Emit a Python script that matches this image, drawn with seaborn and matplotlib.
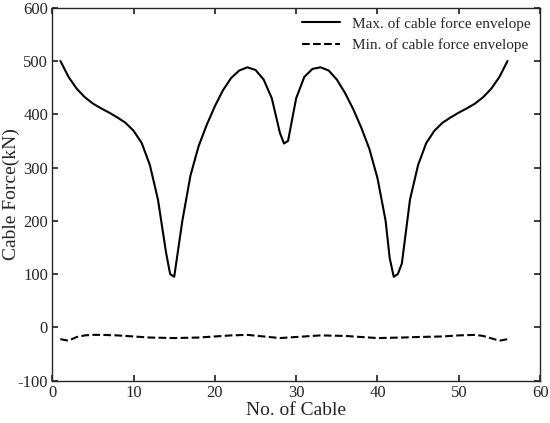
import numpy as np
import pandas as pd
import matplotlib
matplotlib.use("Agg")
import matplotlib.pyplot as plt
import seaborn as sns

# data
max_x = [1, 2, 3, 4, 5, 6, 7, 8, 9, 10, 11, 12, 13, 14, 14.5, 15, 16, 17, 18, 19, 20,
         21, 22, 23, 24, 25, 26, 27, 28, 28.5, 29, 30, 31, 32, 33, 34, 35, 36, 37, 38,
         39, 40, 41, 41.5, 42, 42.5, 43, 44, 45, 46, 47, 48, 49, 50, 51, 52, 53, 54, 55, 56]
max_force = [500, 470, 448, 432, 420, 411, 403, 394, 384, 369, 346, 305, 240, 140, 100, 95,
             200, 285, 340, 380, 415, 445, 468, 482, 488, 483, 465, 430, 365, 345, 350, 430,
             470, 485, 488, 482, 465, 440, 410, 375, 335, 280, 200, 130, 95, 100, 120, 240,
             305, 346, 369, 384, 394, 403, 411, 420, 432, 448, 470, 500]
min_x = [1, 2, 3, 4, 5, 6, 8, 10, 12, 15, 18, 20, 22, 24, 26, 28, 30, 33, 36, 40, 43,
         45, 48, 50, 52, 53, 55, 56]
min_force = [-22, -25, -18, -15, -14, -14, -15, -17, -19, -20, -19, -17, -15, -14, -17, -20,
             -18, -15, -16, -20, -19, -18, -17, -15, -14, -16, -25, -22]

sns.set_theme(style="ticks")
plt.rcParams['font.family'] = ['Liberation Serif', 'DejaVu Serif']
plt.rcParams['axes.unicode_minus'] = False

fig, ax = plt.subplots(figsize=(5.5, 4.23), dpi=100)
sns.lineplot(x=max_x, y=max_force, color="black", lw=1.5, ax=ax,
             label="Max. of cable force envelope")
sns.lineplot(x=min_x, y=min_force, color="black", lw=1.5, ls="--", ax=ax,
             label="Min. of cable force envelope")

ax.set_xlim(0, 60)
ax.set_ylim(-100, 600)
ax.set_xticks(range(0, 61, 10))
ax.set_yticks(range(-100, 601, 100))
ax.tick_params(direction="in", top=True, right=True, labelsize=12, length=4, pad=3)
ax.set_xlabel("No. of Cable", fontsize=14, labelpad=1)
ax.set_ylabel("Cable Force(kN)", fontsize=14)
ax.yaxis.set_label_coords(-0.066, 0.5)
for s in ax.spines.values():
    s.set_linewidth(1.0)
ax.legend(loc="upper right", fontsize=11, frameon=False,
          handlelength=2.5, borderaxespad=0.2)

plt.subplots_adjust(left=0.095, right=0.982, top=0.982, bottom=0.1)
plt.savefig("out.png", dpi=100)
